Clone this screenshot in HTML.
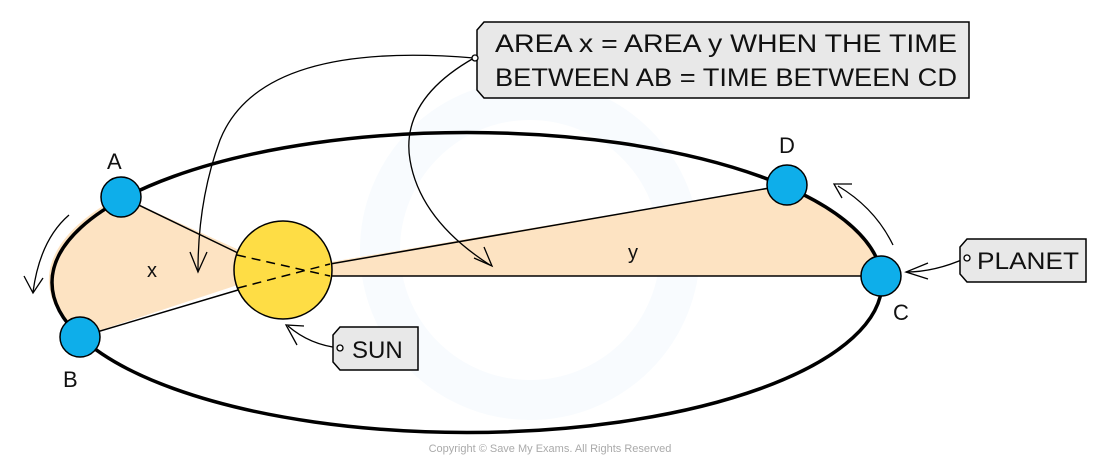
<!DOCTYPE html>
<html><head><meta charset="utf-8"><style>
html,body{margin:0;padding:0;background:#fff;}
svg{display:block;}
text{font-family:"Liberation Sans",sans-serif;fill:#111;}
</style></head><body>
<svg width="1100" height="455" viewBox="0 0 1100 455" xmlns="http://www.w3.org/2000/svg">
<circle cx="530" cy="250" r="150" fill="none" stroke="#f8fbfe" stroke-width="40"/>
<path d="M120,196 L283,270 L80,337 A415,150 0 0 1 120,196 Z" fill="#fde3c2" stroke="none"/>
<path d="M283,270 L787,185 A415,150 0 0 1 881,276 L283,276 Z" fill="#fde3c2" stroke="none"/>
<ellipse cx="467" cy="282.5" rx="415" ry="150" fill="none" stroke="#000" stroke-width="3.5"/>
<line x1="120" y1="196" x2="240" y2="254" stroke="#000" stroke-width="1.5"/>
<line x1="80" y1="337" x2="238" y2="290" stroke="#000" stroke-width="1.5"/>
<line x1="330" y1="264" x2="787" y2="185" stroke="#000" stroke-width="1.5"/>
<line x1="332" y1="276" x2="881" y2="276" stroke="#000" stroke-width="1.5"/>
<circle cx="283" cy="270" r="49" fill="#fedd45" stroke="#000" stroke-width="1.5"/>
<path d="M237,255 L330,276 M238,288 L330,264" stroke="#000" stroke-width="1.5" stroke-dasharray="9,6" fill="none"/>
<g fill="#0eaeea" stroke="#000" stroke-width="1.5">
<circle cx="121" cy="197" r="20"/>
<circle cx="80" cy="337" r="20"/>
<circle cx="787" cy="185" r="20"/>
<circle cx="881" cy="276" r="20"/>
</g>
<g font-size="22">
<text x="107" y="169">A</text>
<text x="63" y="387">B</text>
<text x="779" y="153">D</text>
<text x="893" y="320">C</text>
<text x="147" y="277" font-size="20">x</text>
<text x="628" y="259" font-size="20">y</text>
</g>
<g fill="none" stroke="#000" stroke-width="1.3">
<path d="M69,215 Q40,240 33,292"/>
<path d="M24,276 L33,293 L43,278"/>
<path d="M893,245 Q875,208 838,186"/>
<path d="M852,184 L834,184 L842,198"/>
<path d="M474,58 Q260,40 220,140 Q198,200 198,270"/>
<path d="M190,252 L198,272 L207,252"/>
<path d="M474,58 Q400,100 410,160 Q420,220 490,265"/>
<path d="M474,258 L492,266 L484,247"/>
<path d="M340,348 Q310,345 288,326"/>
<path d="M304,326 L286,325 L297,345"/>
<path d="M966,258 Q935,272 906,272"/>
<path d="M928,263 L906,272 L928,279"/>
</g>
<path d="M484,22 L969,22 L969,98 L484,98 L477,90 L477,30 Z" fill="#e8e8e8" stroke="#000" stroke-width="1.5"/>
<circle cx="475" cy="58" r="3" fill="#fff" stroke="#000" stroke-width="1.3"/>
<text x="495" y="52" font-size="25" textLength="462" lengthAdjust="spacingAndGlyphs">AREA  x = AREA  y  WHEN  THE  TIME</text>
<text x="495" y="86" font-size="25" textLength="462" lengthAdjust="spacingAndGlyphs">BETWEEN  AB = TIME  BETWEEN  CD</text>
<path d="M340,327 L418,327 L418,370 L340,370 L333,362 L333,335 Z" fill="#e8e8e8" stroke="#000" stroke-width="1.5"/>
<circle cx="340" cy="348" r="3" fill="#fff" stroke="#000" stroke-width="1.3"/>
<text x="352" y="358" font-size="24">SUN</text>
<path d="M967,239 L1086,239 L1086,282 L967,282 L960,274 L960,247 Z" fill="#e8e8e8" stroke="#000" stroke-width="1.5"/>
<circle cx="967" cy="258" r="3" fill="#fff" stroke="#000" stroke-width="1.3"/>
<text x="977" y="269" font-size="24" textLength="102" lengthAdjust="spacingAndGlyphs">PLANET</text>
<text x="550" y="452" font-size="11" text-anchor="middle" style="fill:#aaa">Copyright © Save My Exams. All Rights Reserved</text>
</svg>
</body></html>
